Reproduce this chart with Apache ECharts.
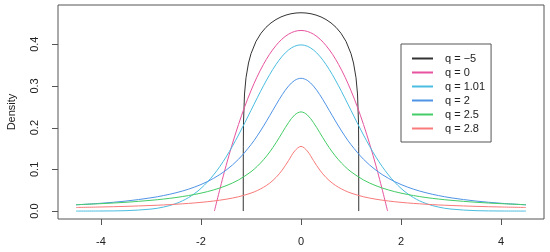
<!DOCTYPE html>
<html>
<head>
<meta charset="utf-8">
<script src="https://cdn.jsdelivr.net/npm/echarts@6/dist/echarts.min.js"></script>
<style>html,body{margin:0;padding:0;background:#fff;}#c{width:550px;height:252px;}</style>
</head>
<body>
<div id="c"></div>
<script>
const seriesNames = ['q = \u22125', 'q = 0', 'q = 1.01', 'q = 2', 'q = 2.5', 'q = 2.8'];
const xTicks = [-4, -2, 0, 2, 4];
const yTicks = [0, 0.1, 0.2, 0.3, 0.4];

const xQm5 = [-1.1547,-1.154,-1.15,-1.13,-1.1,-1.05,-1.0,-0.9,-0.8,-0.7,-0.6,-0.5,-0.4,-0.3,-0.2,-0.1,0,
  0.1,0.2,0.3,0.4,0.5,0.6,0.7,0.8,0.9,1.0,1.05,1.1,1.13,1.15,1.154,1.1547];
const yQm5 = [0,0.1553,0.2132,0.2807,0.3197,0.3549,0.3773,0.4068,0.4263,0.4405,0.4511,0.4592,0.4654,0.4699,0.4730,0.4748,0.4754,
  0.4748,0.4730,0.4699,0.4654,0.4592,0.4511,0.4405,0.4263,0.4068,0.3773,0.3549,0.3197,0.2807,0.2132,0.1553,0];

const xQ0 = [-1.732,-1.5,-1.25,-1,-0.75,-0.5,-0.25,0,0.25,0.5,0.75,1,1.25,1.5,1.732];
const yQ0 = [0,0.1083,0.2075,0.2887,0.3518,0.3969,0.4240,0.4330,0.4240,0.3969,0.3518,0.2887,0.2075,0.1083,0];

const xT = [-4.5,-4,-3.5,-3,-2.75,-2.5,-2.25,-2,-1.75,-1.5,-1.25,-1,-0.875,-0.75,-0.625,-0.5,-0.375,-0.25,-0.125,0,
  0.125,0.25,0.375,0.5,0.625,0.75,0.875,1,1.25,1.5,1.75,2,2.25,2.5,2.75,3,3.5,4,4.5];
const yQ101 = [0.0000,0.0002,0.0010,0.0048,0.0096,0.0181,0.0323,0.0545,0.0865,0.1294,0.1823,0.2414,0.2714,0.3005,0.3275,0.3514,0.3713,0.3861,0.3953,0.3984,
  0.3953,0.3861,0.3713,0.3514,0.3275,0.3005,0.2714,0.2414,0.1823,0.1294,0.0865,0.0545,0.0323,0.0181,0.0096,0.0048,0.0010,0.0002,0.0000];
const yQ2 = [0.0150,0.0187,0.0240,0.0318,0.0372,0.0439,0.0525,0.0637,0.0784,0.0979,0.1242,0.1592,0.1803,0.2037,0.2289,0.2546,0.2791,0.2996,0.3134,0.3183,
  0.3134,0.2996,0.2791,0.2546,0.2289,0.2037,0.1803,0.1592,0.1242,0.0979,0.0784,0.0637,0.0525,0.0439,0.0372,0.0318,0.0240,0.0187,0.0150];
const yQ25 = [0.0152,0.0178,0.0211,0.0258,0.0288,0.0325,0.0372,0.0430,0.0506,0.0607,0.0746,0.0943,0.1073,0.1230,0.1418,0.1637,0.1880,0.2120,0.2306,0.2377,
  0.2306,0.2120,0.1880,0.1637,0.1418,0.1230,0.1073,0.0943,0.0746,0.0607,0.0506,0.0430,0.0372,0.0325,0.0288,0.0258,0.0211,0.0178,0.0152];
const yQ28 = [0.0086,0.0098,0.0113,0.0134,0.0147,0.0164,0.0184,0.0209,0.0241,0.0284,0.0343,0.0431,0.0492,0.0570,0.0671,0.0806,0.0984,0.1210,0.1441,0.1550,
  0.1441,0.1210,0.0984,0.0806,0.0671,0.0570,0.0492,0.0431,0.0343,0.0284,0.0241,0.0209,0.0184,0.0164,0.0147,0.0134,0.0113,0.0098,0.0086];

const colors = ['#333333', '#E7539E', '#4BBDE0', '#4F94E6', '#44CC66', '#F87A7A'];
const FONT = '"Liberation Sans", Arial, sans-serif';
const X_MIN = -4.86, X_MAX = 4.86, Y_MIN = -0.019, Y_MAX = 0.494;
const TICK = 6;

function pairs(xs, ys) { return xs.map((x, i) => [x, ys[i]]); }
const curves = [
  [xQm5, yQm5, false],
  [xQ0, yQ0, true],
  [xT, yQ101, true],
  [xT, yQ2, true],
  [xT, yQ25, true],
  [xT, yQ28, true]
];

// Tick marks drawn as a custom series through the chart's own scales (clip off).
const tickData = xTicks.map(v => [v, Y_MIN, 0]).concat(yTicks.map(v => [X_MIN, v, 1]));

const chart = echarts.init(document.getElementById('c'), null, {renderer: 'canvas'});
chart.setOption({
  animation: false,
  backgroundColor: '#ffffff',
  grid: {left: 58, right: 6, top: 5, bottom: 33, show: true, borderColor: '#555', borderWidth: 1,
     backgroundColor: 'transparent', containLabel: false, outerBoundsMode: 'none'},
  xAxis: {type: 'value', min: X_MIN, max: X_MAX, position: 'bottom',
     axisLine: {show: false, onZero: false},
     axisTick: {show: false},
     splitLine: {show: false},
     axisLabel: {customValues: xTicks, margin: 17, fontSize: 11, fontFamily: FONT, color: '#222', formatter: v => String(v)}},
  yAxis: {type: 'value', min: Y_MIN, max: Y_MAX, position: 'left',
     name: 'Density', nameLocation: 'middle', nameGap: 41, nameRotate: 90,
     nameTextStyle: {fontSize: 11, fontFamily: FONT, color: '#222'},
     axisLine: {show: false, onZero: false},
     axisTick: {show: false},
     splitLine: {show: false},
     axisLabel: {customValues: yTicks, margin: 18, rotate: 90, fontSize: 11, fontFamily: FONT, color: '#222', formatter: v => v.toFixed(1)}},
  legend: {
    orient: 'vertical', left: 401, top: 44,
    icon: 'rect', itemWidth: 21, itemHeight: 2, itemGap: 3,
    padding: [9, 6, 8, 11],
    borderColor: '#555', borderWidth: 1, borderRadius: 0, backgroundColor: '#fff',
    textStyle: {fontSize: 11, lineHeight: 11, fontFamily: FONT, color: '#222', padding: [0, 0, 0, 7]},
    data: seriesNames
  },
  series: curves.map((c, i) => ({
    name: seriesNames[i], type: 'line', data: pairs(c[0], c[1]),
    smooth: c[2] ? 0.35 : false, symbol: 'none', showSymbol: false,
    lineStyle: {color: colors[i], width: 1}, itemStyle: {color: colors[i]},
    emphasis: {disabled: true}
  })).concat([{
    type: 'custom', name: 'ticks', clip: false, silent: true, z: 10,
    data: tickData,
    renderItem: (params, api) => {
      const p = api.coord([api.value(0), api.value(1)]);
      const horiz = api.value(2) === 1;
      const x = horiz ? p[0] : Math.round(p[0]) + 0.5;
      const y = horiz ? Math.round(p[1]) + 0.5 : p[1];
      return {
        type: 'line',
        shape: horiz ? {x1: x, y1: y, x2: x - TICK, y2: y} : {x1: x, y1: y, x2: x, y2: y + TICK},
        style: {stroke: '#555', lineWidth: 1}
      };
    }
  }])
});
</script>
</body>
</html>
